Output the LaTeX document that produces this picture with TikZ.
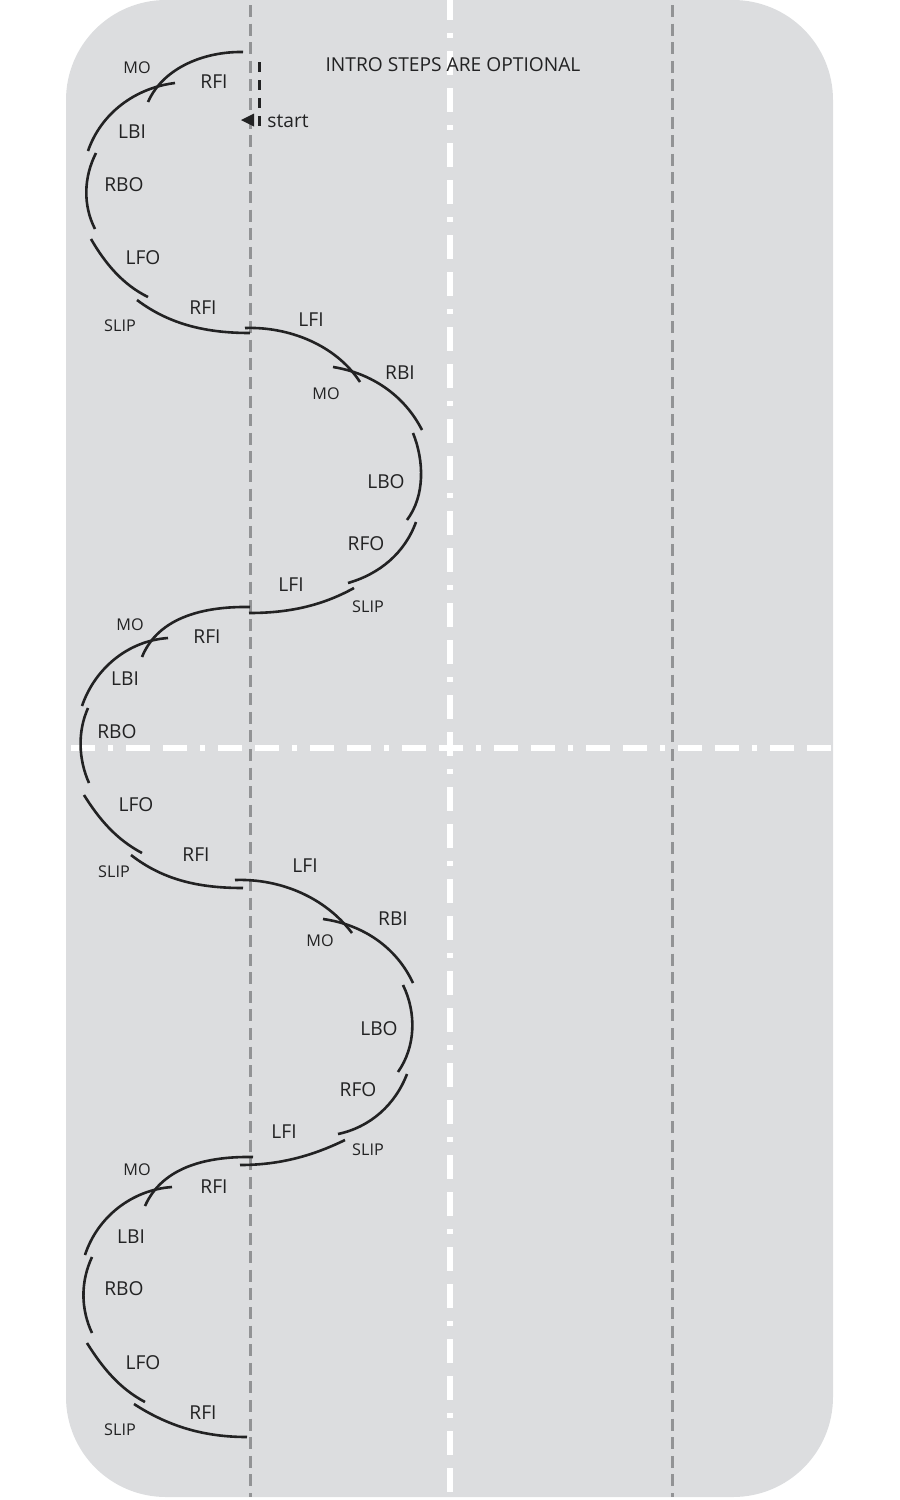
\documentclass[tikz,border=0pt]{standalone}
\usepackage{fontspec}
\setmainfont{Open Sans}
\definecolor{bg}{HTML}{DCDDDF}
\definecolor{ink}{HTML}{222223}
\definecolor{gridgrey}{HTML}{929395}
\begin{document}
\begin{tikzpicture}[x=0.5pt,y=-0.5pt,
  skate/.style={line width=1.3pt, draw=ink},
  lab/.style={font=\fontsize{9.6}{10}\selectfont, text=ink, inner sep=0pt},
  slab/.style={font=\fontsize{8.1}{9}\selectfont, text=ink, inner sep=0pt},
  gridline/.style={draw=gridgrey, line width=1.5pt, dash pattern=on 6pt off 3.3pt},
  whiteline/.style={draw=white, line width=3pt, dash pattern=on 12pt off 6.5pt on 12pt off 6.5pt on 2.5pt off 6.5pt}]
\useasboundingbox (0,0) rectangle (900,1500);
% background
\fill[bg, rounded corners=50pt] (66,0) rectangle (833,1497);
% white centre lines
\draw[whiteline, dash phase=20.5pt] (450,0) -- (450,1497);
\draw[whiteline, dash phase=18pt] (70,748) -- (833,748);
% grey axes
\draw[gridline] (250,5) -- (250,1497);
\draw[gridline] (672,5) -- (672,1497);

% start marker
\draw[ink, line width=1.5pt, dash pattern=on 5pt off 4pt] (259,62) -- (259,127);
\fill[ink] (241,120) -- (254,113.5) -- (254,126.5) -- cycle;
\node[lab, anchor=west] (start) at (267,121) {start};
\node[lab] (intro) at (453,65) {INTRO STEPS ARE OPTIONAL};

% ---------- Lobe A (intro, left) ----------
\draw[skate] (243,52) .. controls +(181:38) and +(294:38) .. (148,102);
\draw[skate] (175,83) .. controls +(173:40) and +(289:40) .. (88,151);
\draw[skate] (96,153) .. controls +(117:27) and +(243:27) .. (95,229);
\draw[skate] (91,239) .. controls +(60:28) and +(206:28) .. (148,297);
\draw[skate] (137,300) .. controls +(37:42) and +(180:42) .. (250,333);
\node[slab] (a0) at (137,68) {MO};
\node[lab] (a1) at (214,82) {RFI};
\node[lab] (a2) at (132,132) {LBI};
\node[lab] (a3) at (124,185) {RBO};
\node[lab] (a4) at (143,258) {LFO};
\node[lab] (a5) at (203,308) {RFI};
\node[slab] (a6) at (120,326) {SLIP};

% ---------- Lobe B (right) ----------
\draw[skate] (245,328) .. controls +(-2:44) and +(237:44) .. (360,382);
\draw[skate] (333,367) .. controls +(9:39) and +(243:39) .. (422,430);
\draw[skate] (413,433) .. controls +(68:30) and +(307:30) .. (407,520);
\draw[skate] (416,522) .. controls +(110:33) and +(344:33) .. (348,583);
\draw[skate] (354,588) .. controls +(151:38) and +(0:38) .. (249,613);
\node[lab] (b1) at (311,320) {LFI};
\node[lab] (b2) at (400,373) {RBI};
\node[slab] (b0) at (326,394) {MO};
\node[lab] (b3) at (386,482) {LBO};
\node[lab] (b4) at (366,544) {RFO};
\node[lab] (b5) at (291,585) {LFI};
\node[slab] (b6) at (368,607) {SLIP};

% ---------- Lobe C (left) ----------
\draw[skate] (250,607) .. controls +(181:44) and +(292:44) .. (142,657);
\draw[skate] (168,638) .. controls +(176:40) and +(289:40) .. (82,706);
\draw[skate] (88,708) .. controls +(114:26) and +(246:26) .. (89,783);
\draw[skate] (84,795) .. controls +(58:29) and +(208:29) .. (142,853);
\draw[skate] (131,855) .. controls +(38:42) and +(180:42) .. (243,888);
\node[slab] (c0) at (130,625) {MO};
\node[lab] (c1) at (207,637) {RFI};
\node[lab] (c2) at (125,679) {LBI};
\node[lab] (c3) at (117,732) {RBO};
\node[lab] (c4) at (136,805) {LFO};
\node[lab] (c5) at (196,855) {RFI};
\node[slab] (c6) at (114,872) {SLIP};

% ---------- Lobe D (right) ----------
\draw[skate] (235,880) .. controls +(-2:45) and +(233:45) .. (352,933);
\draw[skate] (323,919) .. controls +(8:40) and +(245:40) .. (413,983);
\draw[skate] (403,985) .. controls +(64:31) and +(305:31) .. (398,1072);
\draw[skate] (407,1074) .. controls +(111:33) and +(348:33) .. (338,1134);
\draw[skate] (345,1140) .. controls +(154:38) and +(0:38) .. (240,1165);
\node[lab] (d1) at (305,866) {LFI};
\node[lab] (d2) at (393,919) {RBI};
\node[slab] (d0) at (320,941) {MO};
\node[lab] (d3) at (379,1029) {LBO};
\node[lab] (d4) at (358,1090) {RFO};
\node[lab] (d5) at (284,1132) {LFI};
\node[slab] (d6) at (368,1150) {SLIP};

% ---------- Lobe E (left) ----------
\draw[skate] (253,1157) .. controls +(181:44) and +(294:44) .. (145,1206);
\draw[skate] (172,1187) .. controls +(176:40) and +(288:40) .. (85,1255);
\draw[skate] (92,1257) .. controls +(115:27) and +(245:27) .. (92,1333);
\draw[skate] (87,1343) .. controls +(58:29) and +(208:29) .. (145,1402);
\draw[skate] (134,1404) .. controls +(33:42) and +(180:42) .. (247,1437);
\node[slab] (e0) at (137,1170) {MO};
\node[lab] (e1) at (214,1187) {RFI};
\node[lab] (e2) at (131,1237) {LBI};
\node[lab] (e3) at (124,1289) {RBO};
\node[lab] (e4) at (143,1363) {LFO};
\node[lab] (e5) at (203,1413) {RFI};
\node[slab] (e6) at (120,1430) {SLIP};
\end{tikzpicture}
\end{document}
